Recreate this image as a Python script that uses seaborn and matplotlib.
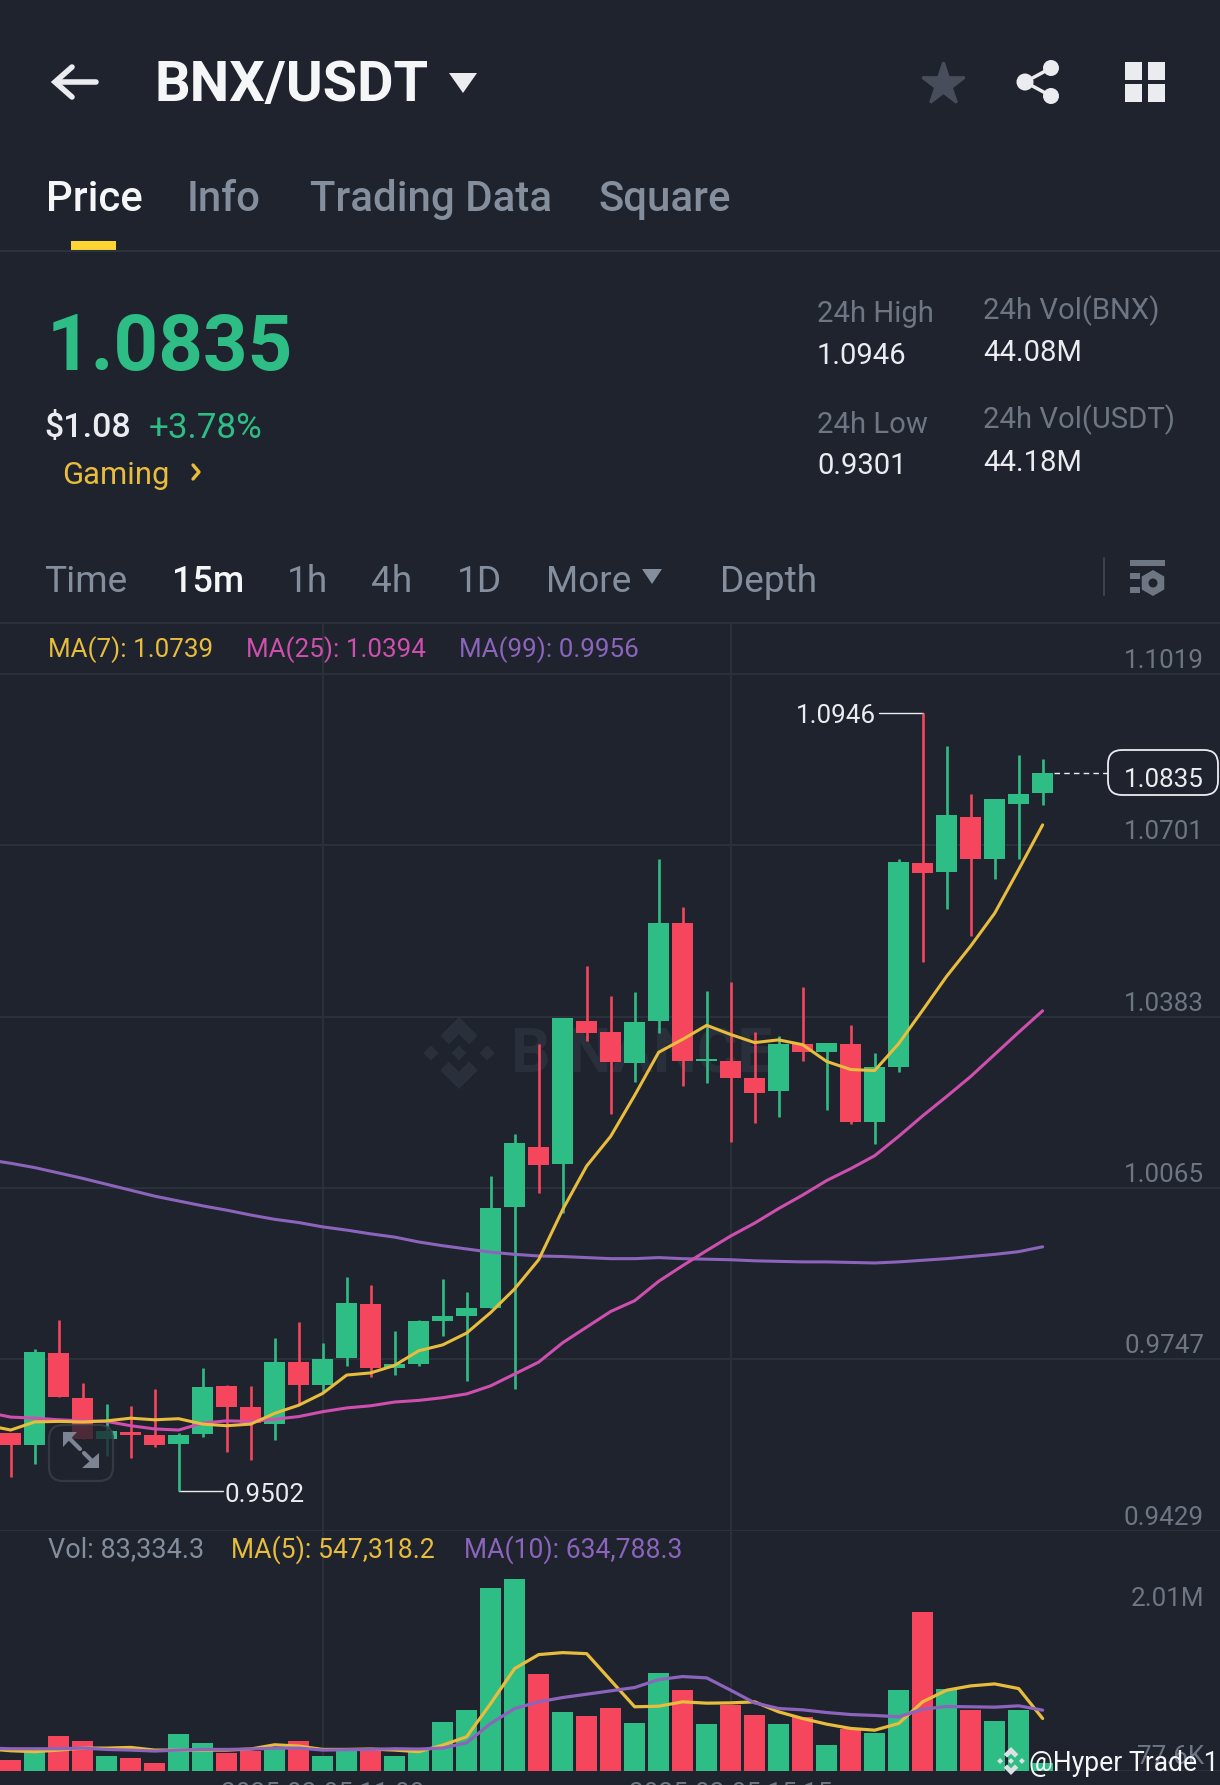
#!/usr/bin/env python3
"""BNX/USDT 15m mobile chart screen."""
import matplotlib.pyplot as plt
import numpy as np
import pandas as pd
import seaborn as sns
from matplotlib.patches import Circle, FancyBboxPatch, Polygon, Rectangle

BG = "#1E232E"
GRID = "#2D333D"
GREEN = "#2EBD85"
RED = "#F6465D"
YELLOW = "#E8BC3C"
PINK = "#CF4FAE"
PURPLE = "#8C64BC"
WHITE = "#EAECEF"
GREY = "#848E9C"
DIM = "#6E7683"

opens = [0.9611, 0.9589, 0.9759, 0.9676, 0.9599, 0.9613, 0.9606, 0.9591, 0.9608, 0.9697, 0.9658,
         0.9627, 0.9742, 0.9700, 0.9750, 0.9849, 0.9731, 0.9739, 0.9819, 0.9827, 0.9843, 1.0029,
         1.0142, 1.0109, 1.0375, 1.0354, 1.0298, 1.0375, 1.0557, 1.0300, 1.0301, 1.0269, 1.0246,
         1.0333, 1.0318, 1.0333, 1.0187, 1.0289, 1.0668, 1.0651, 1.0753, 1.0675, 1.0778, 1.0798]
closes = [0.9589, 0.9760, 0.9678, 0.9600, 0.9614, 0.9607, 0.9589, 0.9606, 0.9695, 0.9659, 0.9629,
          0.9742, 0.9699, 0.9747, 0.9852, 0.9731, 0.9739, 0.9818, 0.9827, 0.9843, 1.0028, 1.0149,
          1.0108, 1.0381, 1.0352, 1.0299, 1.0374, 1.0556, 1.0300, 1.0305, 1.0269, 1.0242, 1.0332,
          1.0317, 1.0335, 1.0187, 1.0289, 1.0671, 1.0650, 1.0758, 1.0676, 1.0787, 1.0797, 1.0835]
highs = [0.9611, 0.9767, 0.9821, 0.9704, 0.9665, 0.9660, 0.9693, 0.9611, 0.9731, 0.9700, 0.9698,
         0.9786, 0.9816, 0.9778, 0.9900, 0.9885, 0.9800, 0.9821, 0.9897, 0.9872, 1.0087, 1.0165,
         1.0333, 1.0381, 1.0477, 1.0422, 1.0429, 1.0676, 1.0587, 1.0430, 1.0448, 1.0354, 1.0348,
         1.0439, 1.0335, 1.0368, 1.0316, 1.0675, 1.0946, 1.0886, 1.0796, 1.0787, 1.0869, 1.0861]
lows = [0.9529, 0.9553, 0.9678, 0.9600, 0.9567, 0.9565, 0.9584, 0.9502, 0.9603, 0.9576, 0.9560,
        0.9598, 0.9663, 0.9687, 0.9734, 0.9714, 0.9718, 0.9735, 0.9791, 0.9707, 0.9843, 0.9693,
        1.0055, 1.0019, 1.0337, 1.0202, 1.0262, 1.0352, 1.0255, 1.0260, 1.0151, 1.0185, 1.0196,
        1.0300, 1.0209, 1.0183, 1.0147, 1.0280, 1.0484, 1.0582, 1.0533, 1.0639, 1.0676, 1.0776]

# first value of each average belongs to the candle just off the left edge
ma7 = [0.9625, 0.9616, 0.9631, 0.9632, 0.9631, 0.9633, 0.9638, 0.9635, 0.9637, 0.9627, 0.9624,
       0.9627, 0.9647, 0.9662, 0.9684, 0.9718, 0.9722, 0.9736, 0.9763, 0.9774, 0.9796, 0.9834,
       0.9878, 0.9932, 1.0025, 1.0106, 1.0161, 1.0237, 1.0317, 1.0341, 1.0367, 1.0350, 1.0335,
       1.0340, 1.0331, 1.0300, 1.0285, 1.0283, 1.0333, 1.0395, 1.0458, 1.0514, 1.0575, 1.0656, 1.0739]
ma25 = [0.9649, 0.9640, 0.9638, 0.9635, 0.9633, 0.9632, 0.9624, 0.9618, 0.9616, 0.9629, 0.9633,
        0.9632, 0.9636, 0.9641, 0.9650, 0.9657, 0.9661, 0.9668, 0.9671, 0.9676, 0.9683, 0.9698,
        0.9720, 0.9742, 0.9778, 0.9807, 0.9836, 0.9856, 0.9892, 0.9921, 0.9949, 0.9976, 1.0000,
        1.0027, 1.0052, 1.0079, 1.0101, 1.0125, 1.0161, 1.0199, 1.0235, 1.0272, 1.0313, 1.0354, 1.0394]
ma99 = [1.0118, 1.0111, 1.0103, 1.0093, 1.0083, 1.0072, 1.0061, 1.0050, 1.0041, 1.0032, 1.0024,
        1.0015, 1.0007, 1.0001, 0.9993, 0.9987, 0.9980, 0.9974, 0.9965, 0.9958, 0.9952, 0.9946,
        0.9942, 0.9939, 0.9938, 0.9936, 0.9934, 0.9934, 0.9936, 0.9934, 0.9933, 0.9932, 0.9930,
        0.9929, 0.9928, 0.9928, 0.9927, 0.9926, 0.9928, 0.9931, 0.9934, 0.9938, 0.9942, 0.9947, 0.9956]

# volume in thousands
volumes = [112, 199, 359, 314, 153, 136, 80, 384, 293, 185, 209, 223, 307, 153, 216, 223, 153, 209,
           506, 638, 1914, 2010, 1015, 617, 572, 662, 499, 1022, 847, 492, 694, 582, 485, 558, 272,
           436, 394, 851, 1663, 858, 638, 516, 638, 83.3]
vol_ma5 = [230, 209, 199, 216, 237, 237, 244, 216, 216, 216, 216, 227, 272, 258, 223, 223, 227, 216,
           199, 268, 356, 704, 1071, 1217, 1238, 1227, 948, 670, 676, 722, 708, 711, 722, 617, 547,
           488, 443, 425, 495, 722, 844, 889, 910, 861, 547.3]
vol_ma10 = [237, 230, 230, 230, 237, 223, 216, 206, 216, 223, 223, 227, 237, 237, 216, 220, 223, 230,
            227, 237, 293, 495, 652, 722, 767, 802, 837, 872, 955, 987, 973, 844, 711, 652, 638, 610,
            589, 579, 565, 645, 673, 670, 666, 680, 634.8]

price_ticks = [1.1019, 1.0701, 1.0383, 1.0065, 0.9747, 0.9429]
price_labels = ["1.1019", "1.0701", "1.0383", "1.0065", "0.9747", "0.9429"]
time_ticks = [13, 30]
time_labels = ["2025-02-05 11:00", "2025-02-05 15:15"]
LAST, DAY_HIGH, DAY_LOW = 1.0835, 1.0946, 0.9502

W, H = 1220, 1785
XLIM = (-0.446, 50.39)


def axes_px(fig, top, bottom, zorder):
    ax = fig.add_axes([0, 1 - bottom / H, 1, (bottom - top) / H], zorder=zorder)
    ax.set_facecolor("none")
    for s in ax.spines.values():
        s.set_visible(False)
    ax.tick_params(length=0, labelleft=False, labelbottom=False)
    return ax


def overlay(fig, zorder):
    ax = axes_px(fig, 0, H, zorder)
    ax.set_xlim(0, W)
    ax.set_ylim(H, 0)
    ax.set_xticks([])
    ax.set_yticks([])
    return ax


def txt(ax, x, y, s, px, color, ha="left", weight="normal", **kw):
    return ax.text(x, y, s, fontsize=px * 0.72, color=color, ha=ha, va="center",
                   fontweight=weight, **kw)


def logo(ax, cx, cy, r, color):
    d = r * 0.21
    for dx, dy in [(0, 0), (-r * 0.78, 0), (r * 0.78, 0)]:
        ax.add_patch(Polygon([(cx + dx - d, cy + dy), (cx + dx, cy + dy - d),
                              (cx + dx + d, cy + dy), (cx + dx, cy + dy + d)], color=color, lw=0))
    t = r * 0.24
    for s in (-1, 1):
        ax.add_patch(Polygon([(cx - r * 0.52, cy + s * r * 0.48), (cx, cy + s * r),
                              (cx + r * 0.52, cy + s * r * 0.48), (cx + r * 0.52 - t, cy + s * (r * 0.48 - t)),
                              (cx, cy + s * (r - 2 * t)), (cx - r * 0.52 + t, cy + s * (r * 0.48 - t))],
                             color=color, lw=0))


def main():
    sns.set_theme(style="dark", rc={"axes.facecolor": BG, "figure.facecolor": BG})
    plt.rcParams["font.family"] = ["Roboto", "DejaVu Sans"]

    fig = plt.figure(figsize=(W / 100, H / 100), dpi=100, facecolor=BG)
    under = overlay(fig, 0)
    ax = axes_px(fig, 623, 1530.8, 1)
    ax_vol = axes_px(fig, 1530.8, 1770.7, 1)
    top = overlay(fig, 5)

    idx = np.arange(len(opens))
    ma_idx = np.arange(-1, len(opens))
    o, c, hi, lo = map(np.array, (opens, closes, highs, lows))
    up = c >= o
    colors = np.where(up, GREEN, RED)

    # candles
    ax.vlines(idx, lo, hi, colors=colors, lw=1.9, zorder=2)
    ax.bar(idx, np.abs(c - o), bottom=np.minimum(o, c), width=0.89, color=colors, lw=0, zorder=3)
    for vals, col in [(ma99, PURPLE), (ma25, PINK), (ma7, YELLOW)]:
        sns.lineplot(x=ma_idx, y=vals, color=col, lw=2.2, estimator=None, errorbar=None, ax=ax, zorder=4)
    ax.set_xlim(*XLIM)
    ax.set_ylim(0.9429, 1.11136)
    ax.set_yticks(price_ticks)
    ax.set_xticks(time_ticks)
    ax.set(xlabel="", ylabel="")
    ax.grid(True, color=GRID, lw=1.3)
    ax.set_axisbelow(True)
    trans = ax.get_yaxis_transform()
    for v, lab in zip(price_ticks, price_labels):
        ax.annotate(lab, (1204 / W, v), xycoords=trans, xytext=(0, 9.4), textcoords="offset points",
                    fontsize=26 * 0.72, color=DIM, ha="right", va="center")

    # high / low / last markers
    ax.plot([36.18, 38], [DAY_HIGH, DAY_HIGH], color=WHITE, lw=1, zorder=1)
    ax.annotate("1.0946", (36.05, DAY_HIGH), xytext=(0, -2.2), textcoords="offset points",
                fontsize=26 * 0.72, color=WHITE, ha="right", va="center")
    ax.plot([7, 8.85], [DAY_LOW, DAY_LOW], color=WHITE, lw=1, zorder=1)
    ax.annotate("0.9502", (8.9, DAY_LOW), xytext=(0, -2.6), textcoords="offset points",
                fontsize=26 * 0.72, color=WHITE, ha="left", va="center")
    ax.plot([43.47, 45.72], [LAST, LAST], color=WHITE, lw=1, ls=(0, (4, 3)), zorder=1)

    # volume panel
    vol_df = pd.DataFrame({"idx": idx, "vol": volumes, "dir": np.where(up, "up", "down")})
    sns.barplot(data=vol_df, x="idx", y="vol", hue="dir", palette={"up": GREEN, "down": RED},
                dodge=False, native_scale=True, width=0.89, saturation=1, linewidth=0, legend=False,
                ax=ax_vol, zorder=3)
    sns.lineplot(x=ma_idx, y=vol_ma5, color=YELLOW, lw=2.3, estimator=None, errorbar=None, ax=ax_vol, zorder=4)
    sns.lineplot(x=ma_idx, y=vol_ma10, color=PURPLE, lw=2.3, estimator=None, errorbar=None, ax=ax_vol, zorder=5)
    ax_vol.set_xlim(*XLIM)
    ax_vol.set_ylim(0, 2515)
    ax_vol.set_yticks([0])
    ax_vol.set_xticks(time_ticks)
    ax_vol.set(xlabel="", ylabel="")
    ax_vol.tick_params(length=0, labelleft=False, labelbottom=False)
    ax_vol.grid(True, color=GRID, lw=1.3)
    ax_vol.set_axisbelow(True)

    # faint chart watermark
    logo(under, 459, 1053, 36, "#2A303B")
    txt(under, 510, 1055, "BINANCE", 62, "#2A303B", weight="bold")

    # header
    top.plot([58, 96], [82, 82], color=WHITE, lw=4, solid_capstyle="round")
    top.plot([72, 55, 72], [67, 82, 97], color=WHITE, lw=4, solid_capstyle="round", solid_joinstyle="miter")
    txt(top, 155, 86, "BNX/USDT", 56, "#F5F6F8", weight="bold")
    top.add_patch(Polygon([(449, 73), (477, 73), (463, 93)], color=WHITE, lw=0, joinstyle="round"))
    top.plot([943], [84], marker="*", ms=32, mfc="#474D5A", mec="#474D5A", mew=2, ls="none")
    for (a, b) in [((1025, 82), (1051, 68)), ((1025, 82), (1051, 96))]:
        top.plot([a[0], b[0]], [a[1], b[1]], color=WHITE, lw=2.5)
    for x, y, r in [(1051, 68, 8), (1025, 82, 8.5), (1051, 96, 8)]:
        top.add_patch(Circle((x, y), r, color=WHITE, lw=0))
    for x in (1125, 1148):
        for y in (62, 84):
            top.add_patch(Rectangle((x, y), 17, 17.5, color=WHITE, lw=0))

    # tabs
    txt(top, 46, 199, "Price", 42, "#F5F6F8", weight="medium")
    for x, s in [(187, "Info"), (310, "Trading Data"), (598, "Square")]:
        txt(top, x, 199, s, 42, GREY, weight="medium")
    top.add_patch(Rectangle((71, 241), 45, 9, color="#FCD535", lw=0))
    top.plot([0, W], [250.5, 250.5], color=GRID, lw=1.5)

    # price block
    txt(top, 47, 349, "1.0835", 78, GREEN, weight="bold")
    txt(top, 44, 428, "$1.08", 34, WHITE, weight="medium")
    txt(top, 149, 428, "+3.78%", 35, GREEN)
    txt(top, 62, 475, "Gaming", 31, YELLOW)
    top.plot([193, 199, 193], [465, 472, 479], color=YELLOW, lw=2.4, solid_capstyle="round")

    for x, y, s in [(817, 314, "24h High"), (817, 425, "24h Low"),
                    (983, 311, "24h Vol(BNX)"), (983, 420, "24h Vol(USDT)")]:
        txt(top, x, y, s, 29.2, DIM)
    for x, y, s in [(817, 356, "1.0946"), (817, 466, "0.9301"), (983, 353, "44.08M"), (983, 463, "44.18M")]:
        txt(top, x, y, s, 29.2, WHITE)

    # interval bar
    for x, s in [(44, "Time"), (287, "1h"), (371, "4h"), (457, "1D"), (546, "More"), (720, "Depth")]:
        txt(top, x, 582, s, 37, GREY)
    txt(top, 172, 582, "15m", 36, "#F5F6F8", weight="medium")
    top.add_patch(Polygon([(642, 569), (662, 569), (652, 584)], color=GREY, lw=0))
    top.plot([1104, 1104], [558, 595], color="#3A404C", lw=1.5)
    top.add_patch(Rectangle((1130, 560), 35, 6, color=DIM, lw=0))
    top.add_patch(Rectangle((1130, 573), 10, 6, color=DIM, lw=0))
    top.add_patch(Rectangle((1130, 587), 10, 6, color=DIM, lw=0))
    ang = np.deg2rad(np.arange(30, 390, 60))
    top.add_patch(Polygon(np.c_[1153 + 13 * np.cos(ang), 583 + 13 * np.sin(ang)], color=DIM, lw=0))
    top.add_patch(Circle((1153, 583), 4.5, color=BG, lw=0))
    top.plot([0, W], [623, 623], color=GRID, lw=1.3)

    # legends
    for x, s, col in [(48, "MA(7): 1.0739", YELLOW), (246, "MA(25): 1.0394", PINK), (459, "MA(99): 0.9956", PURPLE)]:
        txt(top, x, 650, s, 26, col)
    for x, s, col, size in [(48, "Vol: 83,334.3", GREY, 27), (231, "MA(5): 547,318.2", YELLOW, 26.5),
                            (464, "MA(10): 634,788.3", PURPLE, 26.5)]:
        txt(top, x, 1550, s, size, col)

    # last price tag
    top.add_patch(FancyBboxPatch((1108, 750), 110, 45, boxstyle="round,pad=0,rounding_size=14",
                                 fc=BG, ec=WHITE, lw=1.3))
    txt(top, 1204, 780, "1.0835", 26, WHITE, ha="right")

    # volume axis labels
    txt(top, 1204, 1599, "2.01M", 26, DIM, ha="right")
    txt(top, 1204, 1757, "77.6K", 26, DIM, ha="right")
    for i, lab in zip(time_ticks, time_labels):
        top.text(10.7 + 24 * i, 1782, lab, fontsize=26 * 0.72, color=DIM, ha="center", va="top")

    # expand button
    top.add_patch(FancyBboxPatch((49, 1425), 64, 56, boxstyle="round,pad=0,rounding_size=14",
                                 fc=BG, ec="#3A404C", lw=1.6, alpha=0.78))
    for tri, shaft in [([(63, 1432), (77, 1432), (63, 1447)], ([68, 80], [1437, 1449])),
                       ([(99, 1468), (82, 1468), (99, 1453)], ([93, 84], [1462, 1453]))]:
        top.add_patch(Polygon(tri, color="#7D8494", lw=0))
        top.plot(*shaft, color="#7D8494", lw=3)

    # author watermark
    logo(top, 1011, 1761, 14, "#DDE0E4")
    txt(top, 1029, 1763, "@Hyper Trade 1", 26.5, "#F5F6F8")

    fig.savefig("out.png", dpi=100, facecolor=BG)


if __name__ == "__main__":
    main()
